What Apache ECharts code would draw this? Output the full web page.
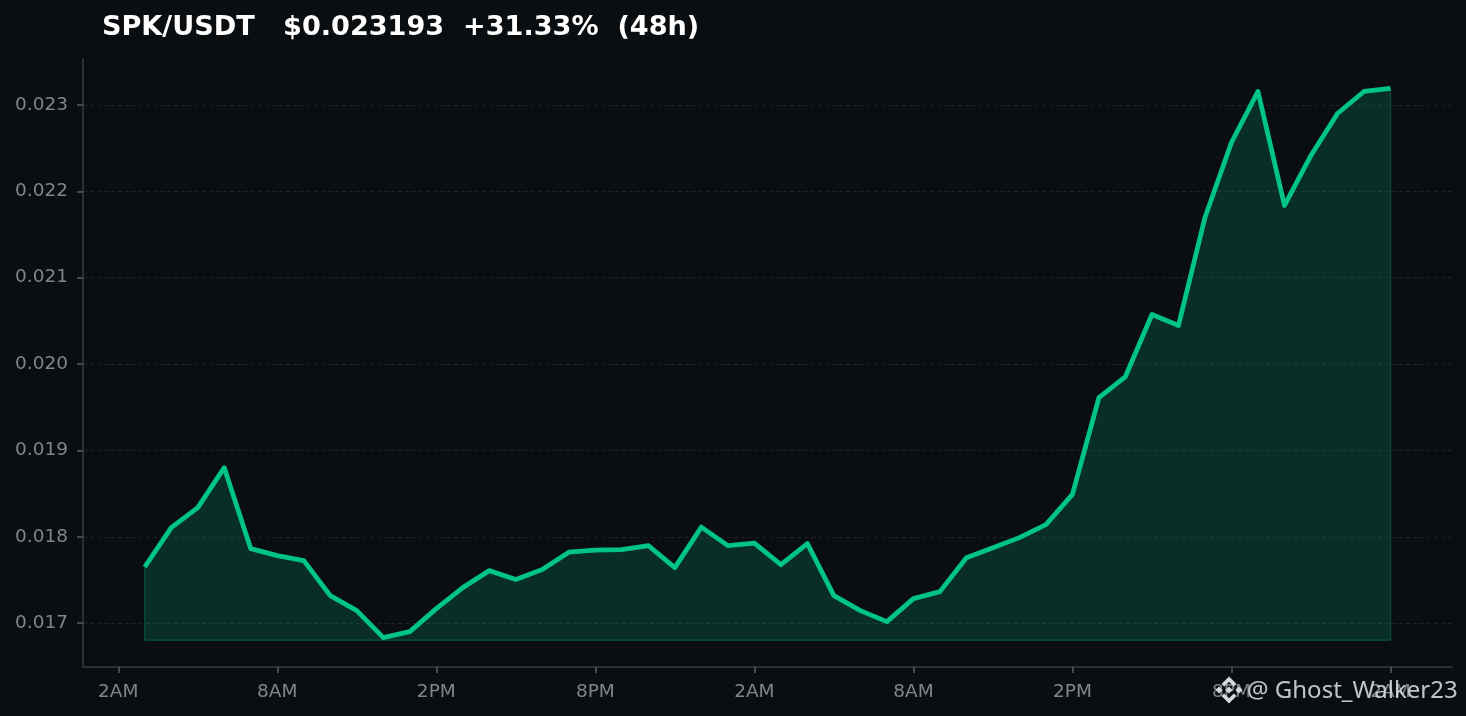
<!DOCTYPE html>
<html><head><meta charset="utf-8">
<style>html,body{margin:0;padding:0;background:#0a0e11}#c{width:1466px;height:716px}</style>
<script src="https://cdn.jsdelivr.net/npm/echarts@6/dist/echarts.min.js"></script>
</head><body><div id="c"></div>
<script>
const hours = [1,2,3,4,5,6,7,8,9,10,11,12,13,14,15,16,17,18,19,20,21,22,23,24,25,26,27,28,29,30,31,32,33,34,35,36,37,38,39,40,41,42,43,44,45,46,47,48];
const prices = [0.01765,0.018105,0.018338,0.018800,0.017862,0.017782,0.017724,0.017318,0.017145,0.016832,0.016901,0.017168,0.017411,0.017608,0.017504,0.017620,0.017822,0.017845,0.017851,0.017897,0.017643,0.018112,0.017897,0.017926,0.017677,0.017921,0.017318,0.017145,0.017017,0.017284,0.017365,0.017758,0.017874,0.017990,0.018141,0.018490,0.019612,0.019855,0.020573,0.020446,0.021697,0.022565,0.023156,0.021836,0.022415,0.022901,0.023156,0.023193];
const fillBase = 0.016803;
const tickHours = [0,6,12,18,24,30,36,42,48];
const tickLabels = ['2AM','8AM','2PM','8PM','2AM','8AM','2PM','8PM','2AM'];
const yTicks = [0.017,0.018,0.019,0.020,0.021,0.022,0.023];
const titleText = 'SPK/USDT   $0.023193  +31.33%  (48h)';
const watermark = '@ Ghost_Walker23';

const font = '"DejaVu Sans"';
const axisGrey = '#2c3036', labelGrey = '#80858d';
const chart = echarts.init(document.getElementById('c'), null, {renderer:'canvas'});
const cx = 1229, cy = 690;
function poly(pts, fill){ return {type:'polygon', z:100, shape:{points:pts.map(p=>[cx+p[0],cy+p[1]])}, style:{fill:fill||'#d6d9dc'}}; }
chart.setOption({
  animation:false,
  backgroundColor:'#0a0e11',
  title:{text:titleText,left:102,top:12,padding:0,textStyle:{color:'#ffffff',fontFamily:font,fontWeight:'bold',fontSize:27.1,lineHeight:32}},
  grid:{left:83,right:14,top:59,bottom:49,containLabel:false},
  xAxis:{type:'value',min:-1.33,max:50.32,
    axisLine:{show:true,onZero:false,lineStyle:{color:axisGrey,width:2}},
    axisTick:{show:true,customValues:tickHours,length:6,lineStyle:{color:'#5a5e66',width:1.5}},
    axisLabel:{show:true,customValues:tickHours,margin:16,color:labelGrey,fontFamily:font,fontSize:18.5,
      formatter:v=>tickLabels[tickHours.indexOf(Math.round(v))]||''},
    splitLine:{show:false}},
  yAxis:{type:'value',min:0.016492,max:0.023532,
    axisLine:{show:true,onZero:false,lineStyle:{color:axisGrey,width:2}},
    axisTick:{show:true,customValues:yTicks,length:6,lineStyle:{color:'#5a5e66',width:1.5}},
    axisLabel:{show:true,customValues:yTicks,margin:15,padding:[2,0,0,0],color:labelGrey,fontFamily:font,fontSize:18.5,align:'right',
      formatter:v=>v.toFixed(3)},
    splitLine:{show:true,lineStyle:{color:'#1f2328',width:1,type:[4,3]}}},
  series:[
    {type:'line',name:'fill',silent:true,symbol:'none',z:2,
     data:hours.map((h,i)=>[h,prices[i]]),
     lineStyle:{width:0,opacity:0},
     areaStyle:{origin:fillBase,color:'rgba(0,192,135,0.18)',opacity:1}},
    {type:'line',name:'edge',silent:true,symbol:'none',z:3,
     data:[[hours[0],prices[0]],[hours[0],fillBase],[hours[47],fillBase],[hours[47],prices[47]]],
     lineStyle:{width:1.5,color:'rgba(0,192,135,0.28)'}},
    {type:'line',name:'SPK/USDT',symbol:'none',z:4,
     data:hours.map((h,i)=>[h,prices[i]]),
     lineStyle:{width:4.8,color:'#00c389',join:'round',cap:'butt'}}
  ],
  graphic:[
    {type:'text',z:100,left:1247,top:679,style:{text:watermark,fill:'rgba(225,228,232,0.85)',font:'24px "Noto Sans"'}},
    poly([[0,-13.5],[7.5,-6],[4.8,-3.6],[0,-8.2],[-4.8,-3.6],[-7.5,-6]]),
    poly([[0,13.5],[7.5,6],[4.8,3.6],[0,8.2],[-4.8,3.6],[-7.5,6]]),
    poly([[-13.5,0],[-9.9,-3.6],[-6.3,0],[-9.9,3.6]]),
    poly([[13.5,0],[9.9,-3.6],[6.3,0],[9.9,3.6]]),
    poly([[0,-3.6],[3.6,0],[0,3.6],[-3.6,0]])
  ]
});
</script></body></html>
